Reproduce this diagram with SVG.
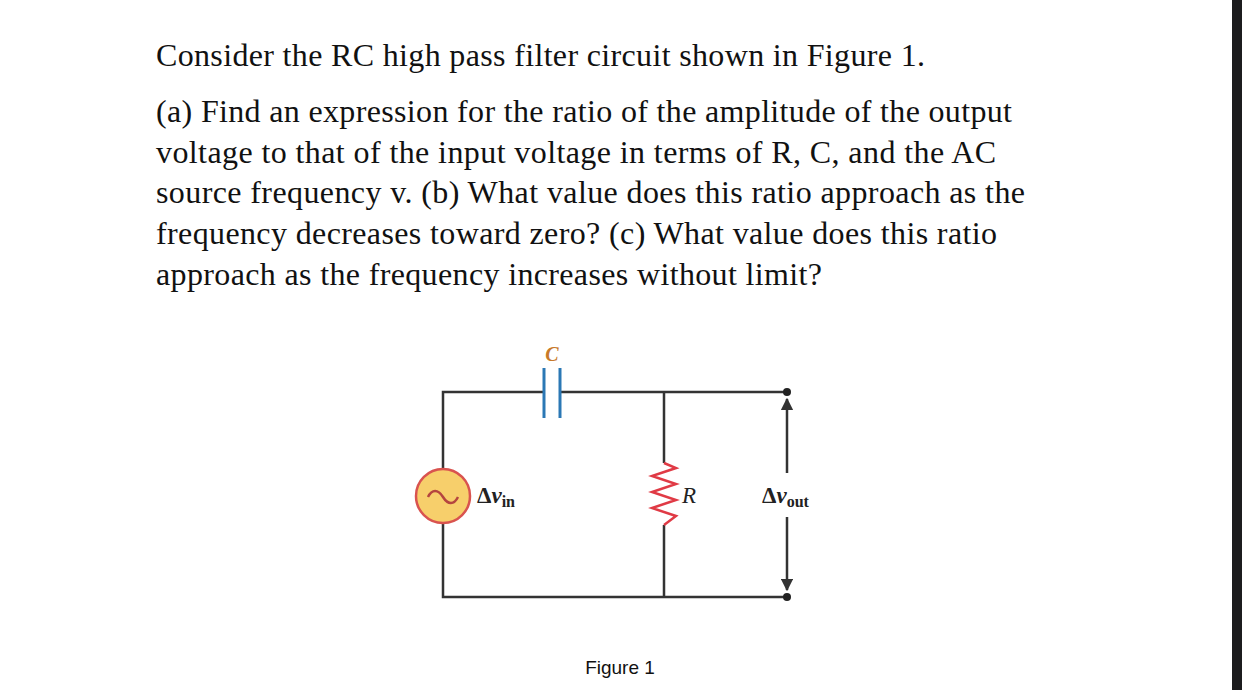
<svg xmlns="http://www.w3.org/2000/svg" width="1242" height="690" viewBox="0 0 1242 690">
<style>
.t{font-family:"Liberation Serif",serif;font-size:32px;fill:#111}
.w{stroke:#333;stroke-width:2.5;fill:none}
.lb{font-family:"Liberation Serif",serif;font-size:23px;fill:#222}
</style>
<defs><marker id="ah" viewBox="0 0 10 10" refX="9" refY="5" markerWidth="5" markerHeight="5" orient="auto"><path d="M0,0L10,5L0,10z" fill="#333"/></marker></defs>
<rect width="1242" height="690" fill="#fff"/>
<rect x="1232" y="0" width="10" height="690" fill="#1c1c1e"/>
<g id="text">
<text class="t" x="156" y="66" textLength="769">Consider the RC high pass filter circuit shown in Figure 1.</text>
<text class="t" x="156" y="122" textLength="856">(a) Find an expression for the ratio of the amplitude of the output</text>
<text class="t" x="156" y="163" textLength="840">voltage to that of the input voltage in terms of R, C, and the AC</text>
<text class="t" x="156" y="203" textLength="869">source frequency v. (b) What value does this ratio approach as the</text>
<text class="t" x="156" y="244" textLength="841">frequency decreases toward zero? (c) What value does this ratio</text>
<text class="t" x="156" y="285" textLength="666">approach as the frequency increases without limit?</text>
</g>
<g id="connectors">
<path class="w" d="M443,468V392H543M561,392H787M664,392V463M664,525V597M443,524V597H787"/>
<line class="w" x1="787" y1="473" x2="787" y2="399" marker-end="url(#ah)"/>
<line class="w" x1="787" y1="517" x2="787" y2="590" marker-end="url(#ah)"/>
</g>
<g id="capacitor">
<line x1="544" y1="368" x2="544" y2="418" stroke="#2b78b5" stroke-width="3"/>
<line x1="560" y1="368" x2="560" y2="418" stroke="#2b78b5" stroke-width="3"/>
<text x="552" y="361" text-anchor="middle" font-family="Liberation Serif,serif" font-style="italic" font-weight="bold" font-size="20" fill="#c87a2a">C</text>
</g>
<g id="source">
<circle cx="443" cy="496" r="27" fill="#f7cf6b" stroke="#d9534f" stroke-width="2.5"/>
<path d="M428,497c4,-8 10,-8 15,0s11,8 15,0" stroke="#b5453f" stroke-width="2.5" fill="none"/>
<text class="lb" x="477" y="503" font-weight="bold">Δ<tspan font-style="italic">v</tspan><tspan font-size="16" dy="4">in</tspan></text>
</g>
<g id="resistor">
<path d="M664,463l12,5l-24,8l24,8l-24,8l24,8l-24,8l24,8l-12,9" stroke="#e03a45" stroke-width="2.5" fill="none"/>
<text class="lb" x="682" y="503" font-style="italic">R</text>
</g>
<g id="terminals">
<circle cx="787" cy="392" r="4" fill="#222"/>
<circle cx="787" cy="597" r="4" fill="#222"/>
<text class="lb" x="762" y="503" font-weight="bold">Δ<tspan font-style="italic">v</tspan><tspan font-size="16" dy="4">out</tspan></text>
</g>
<text x="620" y="674" text-anchor="middle" font-family="Liberation Sans,sans-serif" font-size="19" fill="#111">Figure 1</text>
</svg>
